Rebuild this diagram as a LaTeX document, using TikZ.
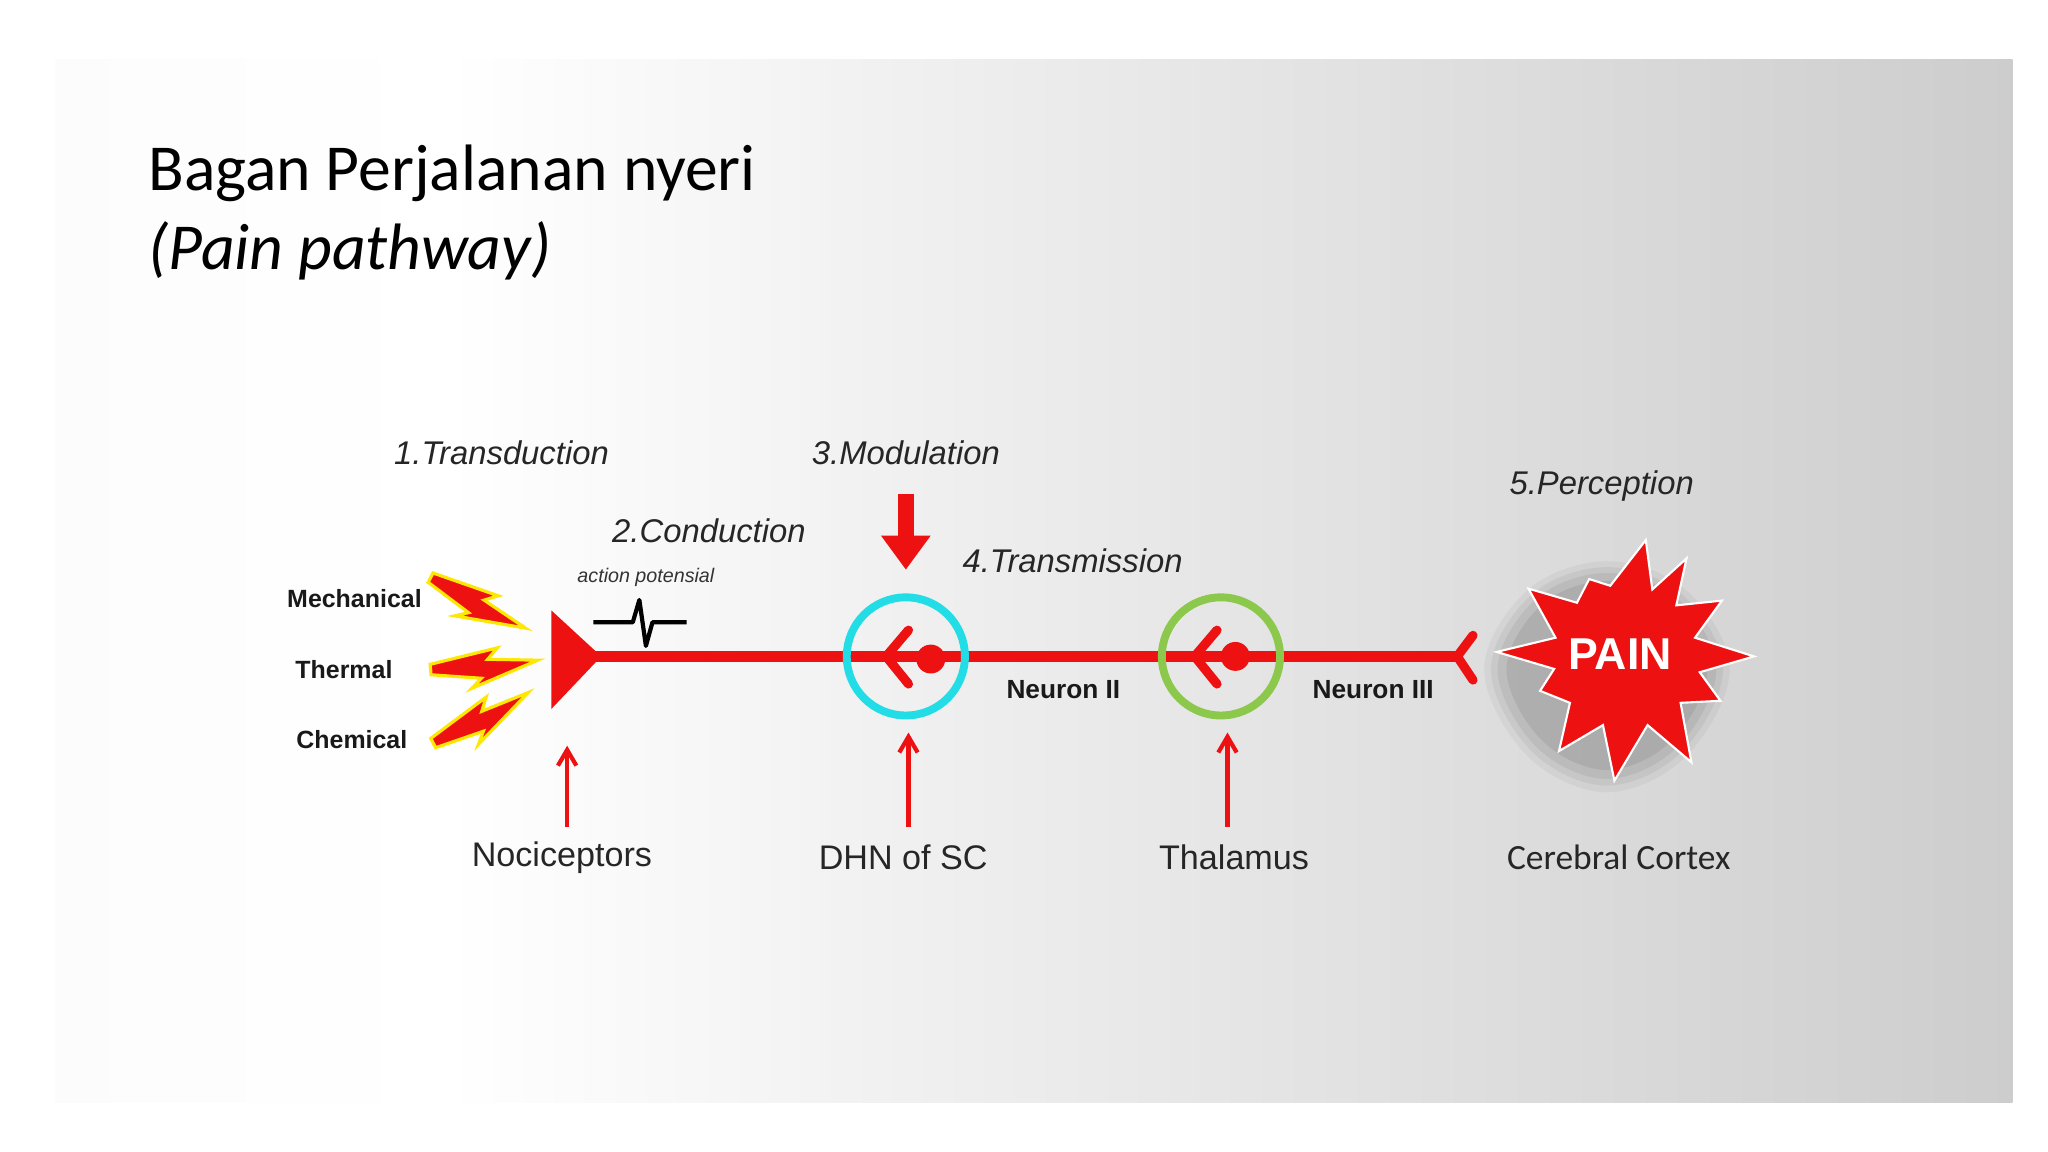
\documentclass[tikz,border=0pt]{standalone}
\usepackage{fontspec}
\setmainfont{Liberation Sans}
\newfontfamily\calfont{Carlito}
\usetikzlibrary{arrows.meta}
\definecolor{pred}{HTML}{EE1111}
\definecolor{cyanc}{HTML}{22DDE6}
\definecolor{greenc}{HTML}{8CC84B}
\pgfdeclarehorizontalshading{slide}{100bp}{color(0bp)=(white!96!black); color(35bp)=(white); color(55bp)=(white!90!black); color(80bp)=(white!78!black); color(100bp)=(white!58!black)}
\tikzset{
 itl/.style={font=\fontsize{12.5}{15}\selectfont\itshape, text=black!85},
 stim/.style={font=\fontsize{9.5}{11}\selectfont\bfseries, text=black!90},
 bot/.style={font=\fontsize{13}{15}\selectfont, text=black!85},
 upar/.style={draw=pred, line width=1.6pt, -{Straight Barb[length=6pt,width=7pt]}},
 axon/.style={draw=pred, line width=4pt},
 chev/.style={draw=pred, line width=3.5pt, line cap=round},
 bolt/.pic={\fill[pred, draw=yellow!90!orange, line width=1.2pt] (0,4)--(38,10)--(30,17)--(82,0)--(44,-4)--(52,-12)--(0,-4)--cycle;}
}
\begin{document}
\begin{tikzpicture}[x=0.5pt,y=-0.5pt]
\useasboundingbox (0,0) rectangle (1560,877.5);
\fill[white] (0,0) rectangle (1560,877.5);
\shade[shading=slide] (42,45) rectangle (1533,840);
% title
\node[anchor=base west, font=\calfont\fontsize{25}{30}\selectfont] (t1) at (106,145) {Bagan Perjalanan nyeri};
\node[anchor=base west, font=\calfont\fontsize{25}{30}\selectfont\itshape] (t2) at (106,205) {(Pain pathway)};
% labels
\node[itl] (l1) at (382,345) {1.Transduction};
\node[itl] (l3) at (690,345) {3.Modulation};
\node[itl] (l2) at (540,404) {2.Conduction};
\node[itl] (l4) at (817,427) {4.Transmission};
\node[itl] (l5) at (1220,370) {5.Perception};
\node[font=\fontsize{7.5}{9}\selectfont\itshape, text=black!80] (ap) at (492,440) {action potensial};
\node[stim] (mech) at (270,456) {Mechanical};
\node[stim] (therm) at (262,510) {Thermal};
\node[stim] (chem) at (268,563) {Chemical};
\node[stim, font=\fontsize{10}{12}\selectfont\bfseries] (n2) at (810,525) {Neuron II};
\node[stim, font=\fontsize{10}{12}\selectfont\bfseries] (n3) at (1046,525) {Neuron III};
\node[bot] (noci) at (428,653) {Nociceptors};
\node[bot] (dhn) at (688,653) {DHN of SC};
\node[bot] (thal) at (940,653) {Thalamus};
\node[bot, font=\calfont\fontsize{13.5}{15}\selectfont] (cc) at (1233,653) {Cerebral Cortex};
% bolts
\pic[rotate=-28] at (328,440) {bolt};
\pic[rotate=5] at (328,510) {bolt};
\pic[rotate=28] at (330,566) {bolt};
% axon
\coordinate (tip) at (452,500);
\coordinate (fork) at (1110,500);
\draw[axon] (tip) -- (fork);
\fill[pred] (420,465) -- (458,500) -- (420,540) -- cycle;
\draw[chev] (fork) -- (1122,484) (fork) -- (1122,518);
% action potential
\draw[black, line width=1.6pt, line join=round] (452,474) -- (482,474) -- (487,457) -- (492,492) -- (497,474) -- (523,474);
% synapses
\node[draw=cyanc, line width=3pt, circle, minimum size=45pt, inner sep=0pt] (c1) at (690,500) {};
\draw[chev] (692,480) -- (675,500) -- (692,521);
\fill[pred] (709,502) circle (11);
\node[draw=greenc, line width=3pt, circle, minimum size=45pt, inner sep=0pt] (c2) at (930,500) {};
\draw[chev] (927,480) -- (910,500) -- (927,521);
\fill[pred] (941,500) circle (11);
% modulation arrow
\coordinate (mtop) at (690,376);
\draw[pred, line width=6pt, -{Triangle[length=13pt,width=18pt]}] (mtop) -- ([yshift=9pt]c1.north);
% up arrows
\coordinate (a1) at (432,630);
\coordinate (a2) at (692,630);
\coordinate (a3) at (935,630);
\draw[upar] (a1) -- (432,568);
\draw[upar] (a2) -- (692,558);
\draw[upar] (a3) -- (935,558);
% pain starburst
\begin{scope}[shift={(1238,500)}]
\foreach \s/\o in {1.1/0.04,1.04/0.05,0.98/0.06,0.9/0.07}
 \fill[black, opacity=\o, shift={(-14,10)}, scale=\s] plot[smooth cycle, tension=0.6] coordinates {(-85,0) (-55,-55) (0,-75) (55,-55) (85,0) (55,60) (0,85) (-55,60)};
\fill[pred, draw=white, line width=0.8pt] (0:98) -- (12:58) -- (25:80) -- (40:55) -- (58:95) -- (72:55) -- (95:95) -- (108:55) -- (125:88) -- (140:55) -- (158:70) -- (170:55) -- (182:98) -- (195:55) -- (215:90) -- (228:55) -- (245:65) -- (258:55) -- (280:90) -- (292:55) -- (302:88) -- (315:55) -- (330:85) -- (345:55) -- cycle;
\node[text=white, font=\fontsize{17}{20}\selectfont\bfseries] (pain) at (-4,-2) {PAIN};
\end{scope}
\end{tikzpicture}
\end{document}
